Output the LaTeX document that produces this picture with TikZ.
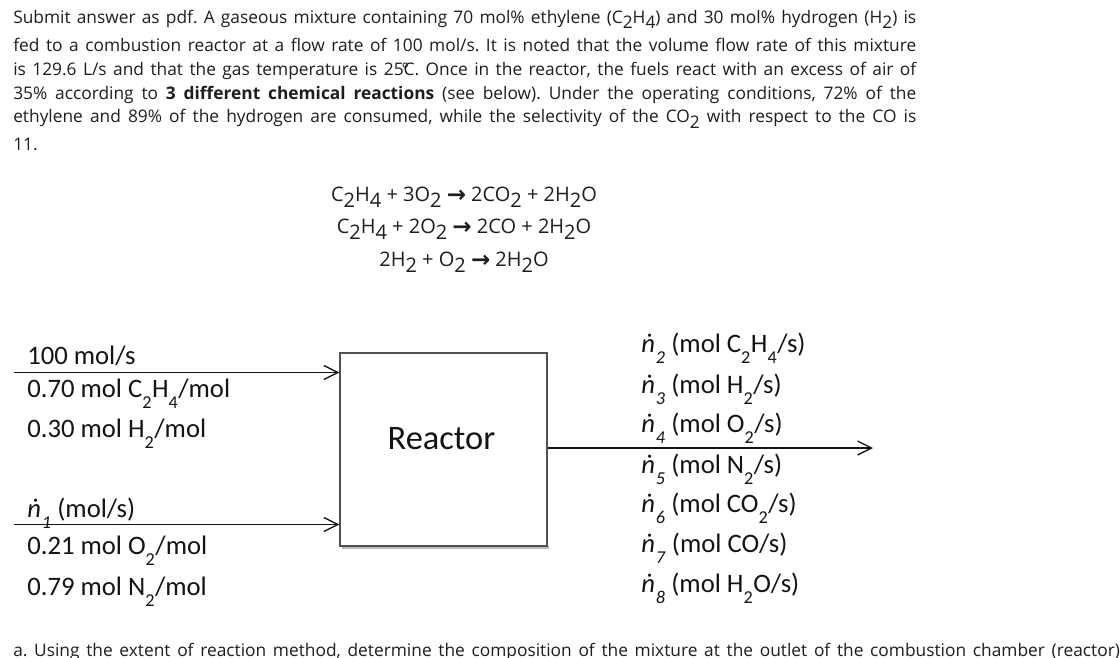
\documentclass[tikz,border=0pt]{standalone}
\usepackage{fontspec}
\usetikzlibrary{arrows.meta}
\setmainfont{Open Sans}
\newfontfamily\carl{Carlito}
\newfontfamily\arrowfont{DejaVu Sans}
\definecolor{bodyink}{HTML}{1E1E1E}
\definecolor{diagink}{HTML}{141414}
\definecolor{boxedge}{HTML}{505050}
\frenchspacing
\newcommand{\lo}[1]{\raisebox{-0.33em}{#1}}
\newcommand{\dn}[1]{\raisebox{-0.42em}{\scalebox{0.68}{#1}}\kern0.02em}
\newcommand{\nd}[1]{\textit{ṅ}\kern0.03em\raisebox{-0.42em}{\scalebox{0.68}{\textit{#1}}}\kern0.24em}
\newcommand{\jline}[1]{\makebox[677.25pt][s]{#1}}
\newcommand{\rarr}{\raisebox{-0.06em}{\scalebox{1.15}{\arrowfont\bfseries →}}}
\tikzset{
  x=0.75pt,y=-0.75pt,
  bodyline/.style={anchor=base west,inner sep=0pt,text=bodyink,font=\fontsize{13}{15}\selectfont},
  eqline/.style={anchor=base,inner sep=0pt,text=bodyink,font=\fontsize{15}{17}\selectfont},
  flow/.style={anchor=base west,inner sep=0pt,text=diagink,font=\carl\fontsize{20}{22}\selectfont},
  stream/.style={draw=diagink,line width=1.1pt,-{Straight Barb[length=10.5pt,width=10.5pt,line width=1pt]}},
  reactorbox/.style={draw=boxedge,line width=1pt,fill=white,minimum width=155.25pt,minimum height=144.75pt,inner sep=0pt},
}
\begin{document}
\begin{tikzpicture}
\useasboundingbox (0,0) rectangle (1120,657);
\fill[white] (0,0) rectangle (1120,657);
% body text
\node[bodyline] (t1) at (13,23) {\jline{Submit answer as pdf. A gaseous mixture containing 70 mol\% ethylene (C\lo{2}H\lo{4}) and 30 mol\% hydrogen (H\lo{2}) is}};
\node[bodyline] (t2) at (13,51) {\jline{fed to a combustion reactor at a flow rate of 100 mol/s. It is noted that the volume flow rate of this mixture}};
\node[bodyline] (t3) at (13,75) {\jline{is 129.6 L/s and that the gas temperature is 25\rlap{\kern-0.12em °}C. Once in the reactor, the fuels react with an excess of air of}};
\node[bodyline] (t4) at (13,99) {\jline{35\% according to \textbf{3 different chemical reactions} (see below). Under the operating conditions, 72\% of the}};
\node[bodyline] (t5) at (13,122.5) {\jline{ethylene and 89\% of the hydrogen are consumed, while the selectivity of the CO\lo{2} with respect to the CO is}};
\node[bodyline] (t6) at (13,150) {11.};
% reactions
\node[eqline] (r1) at (464,201) {C\lo{2}H\lo{4} + 3O\lo{2} \rarr{} 2CO\lo{2} + 2H\lo{2}O};
\node[eqline] (r2) at (464,233) {C\lo{2}H\lo{4} + 2O\lo{2} \rarr{} 2CO + 2H\lo{2}O};
\node[eqline] (r3) at (464,266) {2H\lo{2} + O\lo{2} \rarr{} 2H\lo{2}O};
% reactor
\fill[gray!55] (342,546) rectangle (549,549);
\node[reactorbox] (reactor) at (443.5,449.5) {};
\node[anchor=base,inner sep=0pt,text=diagink,font=\carl\fontsize{25.8}{28}\selectfont] (reactorlabel) at (441.5,449) {Reactor};
% inlet labels
\node[flow] (a1) at (27,364) {100 mol/s};
\node[flow] (a2) at (27,397) {0.70 mol C\dn{2}H\dn{4}/mol};
\node[flow] (a3) at (27,437) {0.30 mol H\dn{2}/mol};
\node[flow] (b1) at (27,517) {\nd{1} (mol/s)};
\node[flow] (b2) at (27,554) {0.21 mol O\dn{2}/mol};
\node[flow] (b3) at (27,595) {0.79 mol N\dn{2}/mol};
% outlet labels
\node[flow] (c2) at (641,352) {\nd{2} (mol C\dn{2}H\dn{4}/s)};
\node[flow] (c3) at (641,393) {\nd{3} (mol H\dn{2}/s)};
\node[flow] (c4) at (641,432) {\nd{4} (mol O\dn{2}/s)};
\node[flow] (c5) at (641,473) {\nd{5} (mol N\dn{2}/s)};
\node[flow] (c6) at (641,512) {\nd{6} (mol CO\dn{2}/s)};
\node[flow] (c7) at (641,552) {\nd{7} (mol CO/s)};
\node[flow] (c8) at (641,592) {\nd{8} (mol H\dn{2}O/s)};
% streams
\coordinate (in1) at (14,372.5);
\coordinate (in2) at (14,524.5);
\coordinate (out) at (873,448);
\draw[stream] (in1) -- (in1 -| reactor.west);
\draw[stream] (in2) -- (in2 -| reactor.west);
\draw[stream] (out -| reactor.east) -- (out);
% cut-off last line
\node[bodyline] (t7) at (13,656) {\makebox[830pt][s]{a. Using the extent of reaction method, determine the composition of the mixture at the outlet of the combustion chamber (reactor)}};
\end{tikzpicture}
\end{document}
